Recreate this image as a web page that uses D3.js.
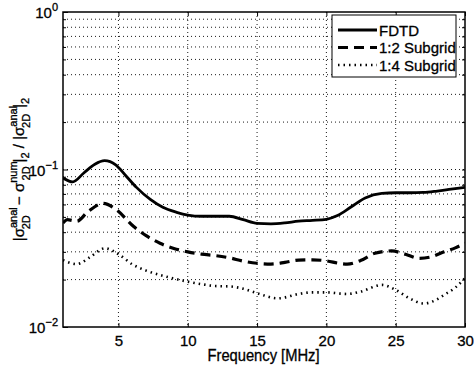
<!DOCTYPE html>
<html><head><meta charset="utf-8">
<script src="https://cdn.jsdelivr.net/npm/d3@7"></script>
<style>body{margin:0;background:#fff}svg{display:block}text{font-family:"Liberation Sans",Arial,sans-serif;fill:#000;stroke:#000;stroke-width:0.3px}</style>
</head><body>
<script>
const fdtdF = [1,1.7,2.5,3.3,4,4.8,5.5,6.3,7.3,8.2,9.2,10,11,12,13,14,15,16,17,18,19,20,20.8,21.8,22.8,24,25,26,27,28,29,30];
const fdtdV = [0.0883,0.0835,0.095,0.108,0.1137,0.107,0.092,0.077,0.0645,0.0575,0.0535,0.0514,0.0505,0.0505,0.0505,0.048,0.0455,0.0452,0.0458,0.047,0.0475,0.0483,0.051,0.058,0.066,0.0705,0.0712,0.0712,0.0715,0.073,0.075,0.077];
const sub2F = [1,1.3,2,2.8,3.9,4.8,6.1,7,8,9,10,11,12,13,14,15,16,17,18,19,20,21,21.5,22.5,23.5,24.7,25.7,26.7,27.5,28.5,29.3,30];
const sub2V = [0.0457,0.048,0.047,0.054,0.061,0.056,0.0434,0.038,0.034,0.0315,0.030,0.029,0.0284,0.0275,0.0262,0.0254,0.0251,0.0257,0.0266,0.0267,0.0263,0.0253,0.0251,0.0265,0.0294,0.0304,0.029,0.0273,0.0278,0.030,0.0318,0.034];
const sub4F = [1,2,3,4,5.1,6,7,8,9,10,11,12,13,14,15,16.5,18,19,20,21,21.5,22.5,24,25,26,27,28,28.5,29.3,30];
const sub4V = [0.0266,0.0251,0.028,0.0316,0.0286,0.025,0.0228,0.0214,0.0203,0.0194,0.0187,0.0182,0.0181,0.0175,0.0164,0.0152,0.0162,0.0166,0.0166,0.0163,0.0162,0.0168,0.0185,0.0172,0.0152,0.0141,0.015,0.016,0.0178,0.0204];
const xTicks = [5,10,15,20,25,30];
const yTickExps = [0,-1,-2];
const seriesNames = ["FDTD","1:2 Subgrid","1:4 Subgrid"];

const W=474,H=366, L=63,R=465,T=12,B=327;
const svg=d3.select("body").append("svg").attr("width",W).attr("height",H);
const x=d3.scaleLinear().domain([1,30]).range([L,R]);
const y=d3.scaleLog().domain([0.01,1]).range([B,T]);

// grid
const g=svg.append("g");
xTicks.slice(0,-1).forEach(t=>g.append("line").attr("x1",x(t)).attr("x2",x(t)).attr("y1",T).attr("y2",B)
  .attr("stroke","#000").attr("stroke-width",0.9).attr("stroke-dasharray","1,3"));
const minor=[];
[0.01,0.1].forEach(d=>{for(let k=2;k<=9;k++) minor.push(d*k);});
minor.concat([0.1]).forEach(v=>g.append("line").attr("x1",L).attr("x2",R).attr("y1",y(v)).attr("y2",y(v))
  .attr("stroke","#000").attr("stroke-width",0.9).attr("stroke-dasharray","1,3"));

// axes via d3
const xAxis=d3.axisBottom(x).tickValues(xTicks).tickSize(-4).tickPadding(8).tickFormat(d3.format("d"));
const xa=svg.append("g").attr("transform",`translate(0,${B})`).call(xAxis);
xa.select(".domain").remove();
xa.selectAll("text").attr("font-size",15);
const xt=svg.append("g").attr("transform",`translate(0,${T})`).call(d3.axisTop(x).tickValues(xTicks).tickSize(-4).tickFormat(""));
xt.select(".domain").remove();
const yAxis=d3.axisLeft(y).tickValues(yTickExps.map(e=>Math.pow(10,e))).tickSize(-5).tickFormat("");
const ya=svg.append("g").attr("transform",`translate(${L},0)`).call(yAxis);
ya.select(".domain").remove();
const yr=svg.append("g").attr("transform",`translate(${R},0)`).call(d3.axisRight(y).tickValues(minor.concat([0.1])).tickSize(-3).tickFormat(""));
yr.select(".domain").remove();
const yl2=svg.append("g").attr("transform",`translate(${L},0)`).call(d3.axisLeft(y).tickValues(minor).tickSize(-3).tickFormat(""));
yl2.select(".domain").remove();
yTickExps.forEach(e=>{
  const t=svg.append("text").attr("x",L-5).attr("y",y(Math.pow(10,e))+6).attr("text-anchor","end").attr("font-size",15);
  t.append("tspan").text("10");
  t.append("tspan").attr("dy",-7).attr("font-size",11).text(e===0?"0":"\u2212"+(-e));
});
// frame
svg.append("rect").attr("x",L).attr("y",T).attr("width",R-L).attr("height",B-T).attr("fill","none").attr("stroke","#000").attr("stroke-width",1.5);

// lines
const line=d3.line().x(d=>x(d[0])).y(d=>y(d[1])).curve(d3.curveMonotoneX);
svg.append("clipPath").attr("id","c").append("rect").attr("x",L).attr("y",T).attr("width",R-L).attr("height",B-T);
const styles=[{w:2.8,da:null},{w:3.2,da:"10,6"},{w:2.6,da:"1.5,4"}];
const data=[d3.zip(fdtdF,fdtdV),d3.zip(sub2F,sub2V),d3.zip(sub4F,sub4V)];
data.forEach((d,i)=>svg.append("path").attr("d",line(d)).attr("fill","none").attr("stroke","#000")
  .attr("stroke-width",styles[i].w).attr("stroke-dasharray",styles[i].da).attr("clip-path","url(#c)"));

// legend
const lg=svg.append("g");
lg.append("rect").attr("x",332).attr("y",15).attr("width",124).attr("height",62).attr("fill","#fff").attr("stroke","#000").attr("stroke-width",1);
seriesNames.forEach((n,i)=>{
  const yy=30+i*17.5;
  lg.append("line").attr("x1",338).attr("x2",377).attr("y1",yy).attr("y2",yy).attr("stroke","#000")
    .attr("stroke-width",styles[i].w).attr("stroke-dasharray",styles[i].da);
  lg.append("text").attr("x",379).attr("y",yy+5.5).attr("font-size",15).text(n);
});

// x label
svg.append("text").attr("x",263.5).attr("y",361).attr("text-anchor","middle").attr("font-size",16)
  .attr("textLength",112).attr("lengthAdjust","spacingAndGlyphs").text("Frequency [MHz]");

// y label
const yl=svg.append("text").attr("transform",`translate(24,${(T+B)/2}) rotate(-90)`).attr("text-anchor","middle").attr("font-size",15);
const sup=(t,txt)=>t.append("tspan").attr("font-size",11).attr("dy",-7).text(txt);
const subAfter=(t,txt,dx)=>t.append("tspan").attr("font-size",11).attr("dy",13).attr("dx",dx).text(txt);
yl.append("tspan").text("|\u03c3");
sup(yl,"anal");
subAfter(yl,"2D",-22);
yl.append("tspan").attr("dy",-6).attr("dx",6).text(" \u2212 \u03c3");
sup(yl,"num");
subAfter(yl,"2D",-19);
yl.append("tspan").attr("dy",-6).attr("dx",4).text("|");
yl.append("tspan").attr("font-size",11).attr("dy",5).text("2");
yl.append("tspan").attr("dy",-5).text(" / |\u03c3");
sup(yl,"anal");
subAfter(yl,"2D",-22);
yl.append("tspan").attr("dy",-6).attr("dx",6).text("|");
yl.append("tspan").attr("font-size",11).attr("dy",5).text("2");
</script>
</body></html>
